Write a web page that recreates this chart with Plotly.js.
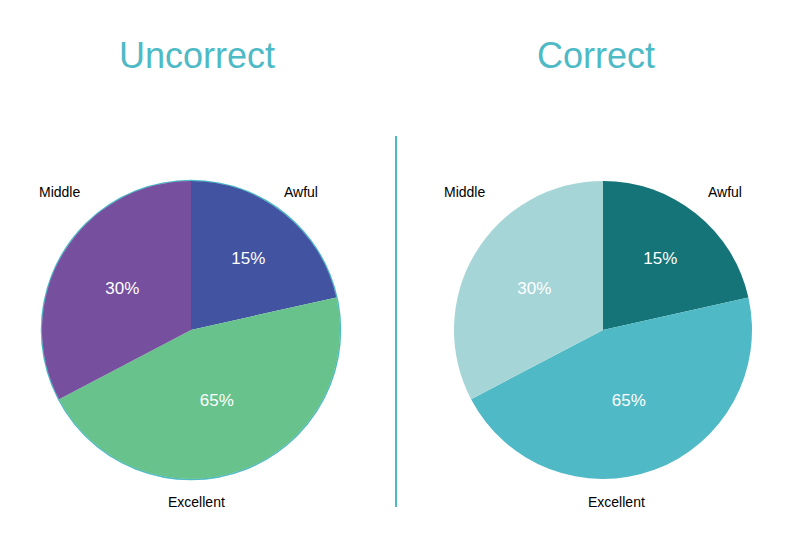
<!DOCTYPE html>
<html>
<head>
<meta charset="utf-8">
<script src="https://cdn.plot.ly/plotly-3.0.1.min.js"></script>
<style>
  html, body { margin: 0; padding: 0; background: #fff; }
  #chart { width: 792px; height: 540px; }
</style>
</head>
<body>
<div id="chart"></div>
<script>
const categories = ['Awful', 'Excellent', 'Middle'];
// slice sizes as drawn in the picture
const sliceSizes = [21.5, 45.8, 32.7];
// percentages printed on the slices
const sliceLabels = ['15%', '65%', '30%'];

const colorsLeft  = ['#4253a2', '#67c28b', '#764f9f'];
const colorsRight = ['#147478', '#50b9c6', '#a6d5d8'];

const teal = '#4dbac6';
const fontFamily = 'Arial, "Liberation Sans", sans-serif';

function pieTrace(colors, xDomain) {
    return {
        type: 'pie',
        labels: categories,
        values: sliceSizes,
        text: sliceLabels,
        textinfo: 'text',
        textposition: 'inside',
        insidetextorientation: 'horizontal',
        textfont: { color: '#fff', size: 17, family: fontFamily },
        sort: false,
        direction: 'clockwise',
        rotation: 0,
        marker: { colors: colors, line: { width: 0 } },
        domain: { x: xDomain, y: [0.113, 0.665] },
        hoverinfo: 'label+text',
        showlegend: false
    };
}

const data = [
    pieTrace(colorsLeft, [0.0530, 0.4293]),
    pieTrace(colorsRight, [0.5732, 0.9495])
];

function label(text, x, y, size, color) {
    return {
        text: text, x: x, y: y, xref: 'paper', yref: 'paper',
        xanchor: 'center', yanchor: 'middle', showarrow: false,
        font: { size: size, color: color, family: fontFamily }
    };
}

const layout = {
    width: 792,
    height: 540,
    margin: { l: 0, r: 0, t: 0, b: 0, pad: 0 },
    paper_bgcolor: '#ffffff',
    plot_bgcolor: '#ffffff',
    annotations: [
        label('Uncorrect', 0.249, 0.898, 36, teal),
        label('Correct', 0.753, 0.898, 36, teal),
        label('Middle', 0.0745, 0.644, 14, '#000'),
        label('Awful', 0.380, 0.644, 14, '#000'),
        label('Excellent', 0.2475, 0.0704, 14, '#000'),
        label('Middle', 0.587, 0.644, 14, '#000'),
        label('Awful', 0.915, 0.644, 14, '#000'),
        label('Excellent', 0.779, 0.0704, 14, '#000')
    ],
    shapes: [
        {
            type: 'line', xref: 'paper', yref: 'paper',
            x0: 0.5, x1: 0.5, y0: 0.061, y1: 0.748,
            line: { color: teal, width: 2 }
        },
        {
            // thin rim around the left pie
            type: 'circle', xref: 'paper', yref: 'paper', layer: 'below',
            x0: (191 - 149.5) / 792, x1: (191 + 149.5) / 792,
            y0: (210 - 149.5) / 540, y1: (210 + 149.5) / 540,
            line: { color: teal, width: 1.5 }
        }
    ]
};

const config = {
    responsive: false,
    displaylogo: false,
    displayModeBar: false
};

Plotly.newPlot('chart', data, layout, config);
</script>
</body>
</html>
